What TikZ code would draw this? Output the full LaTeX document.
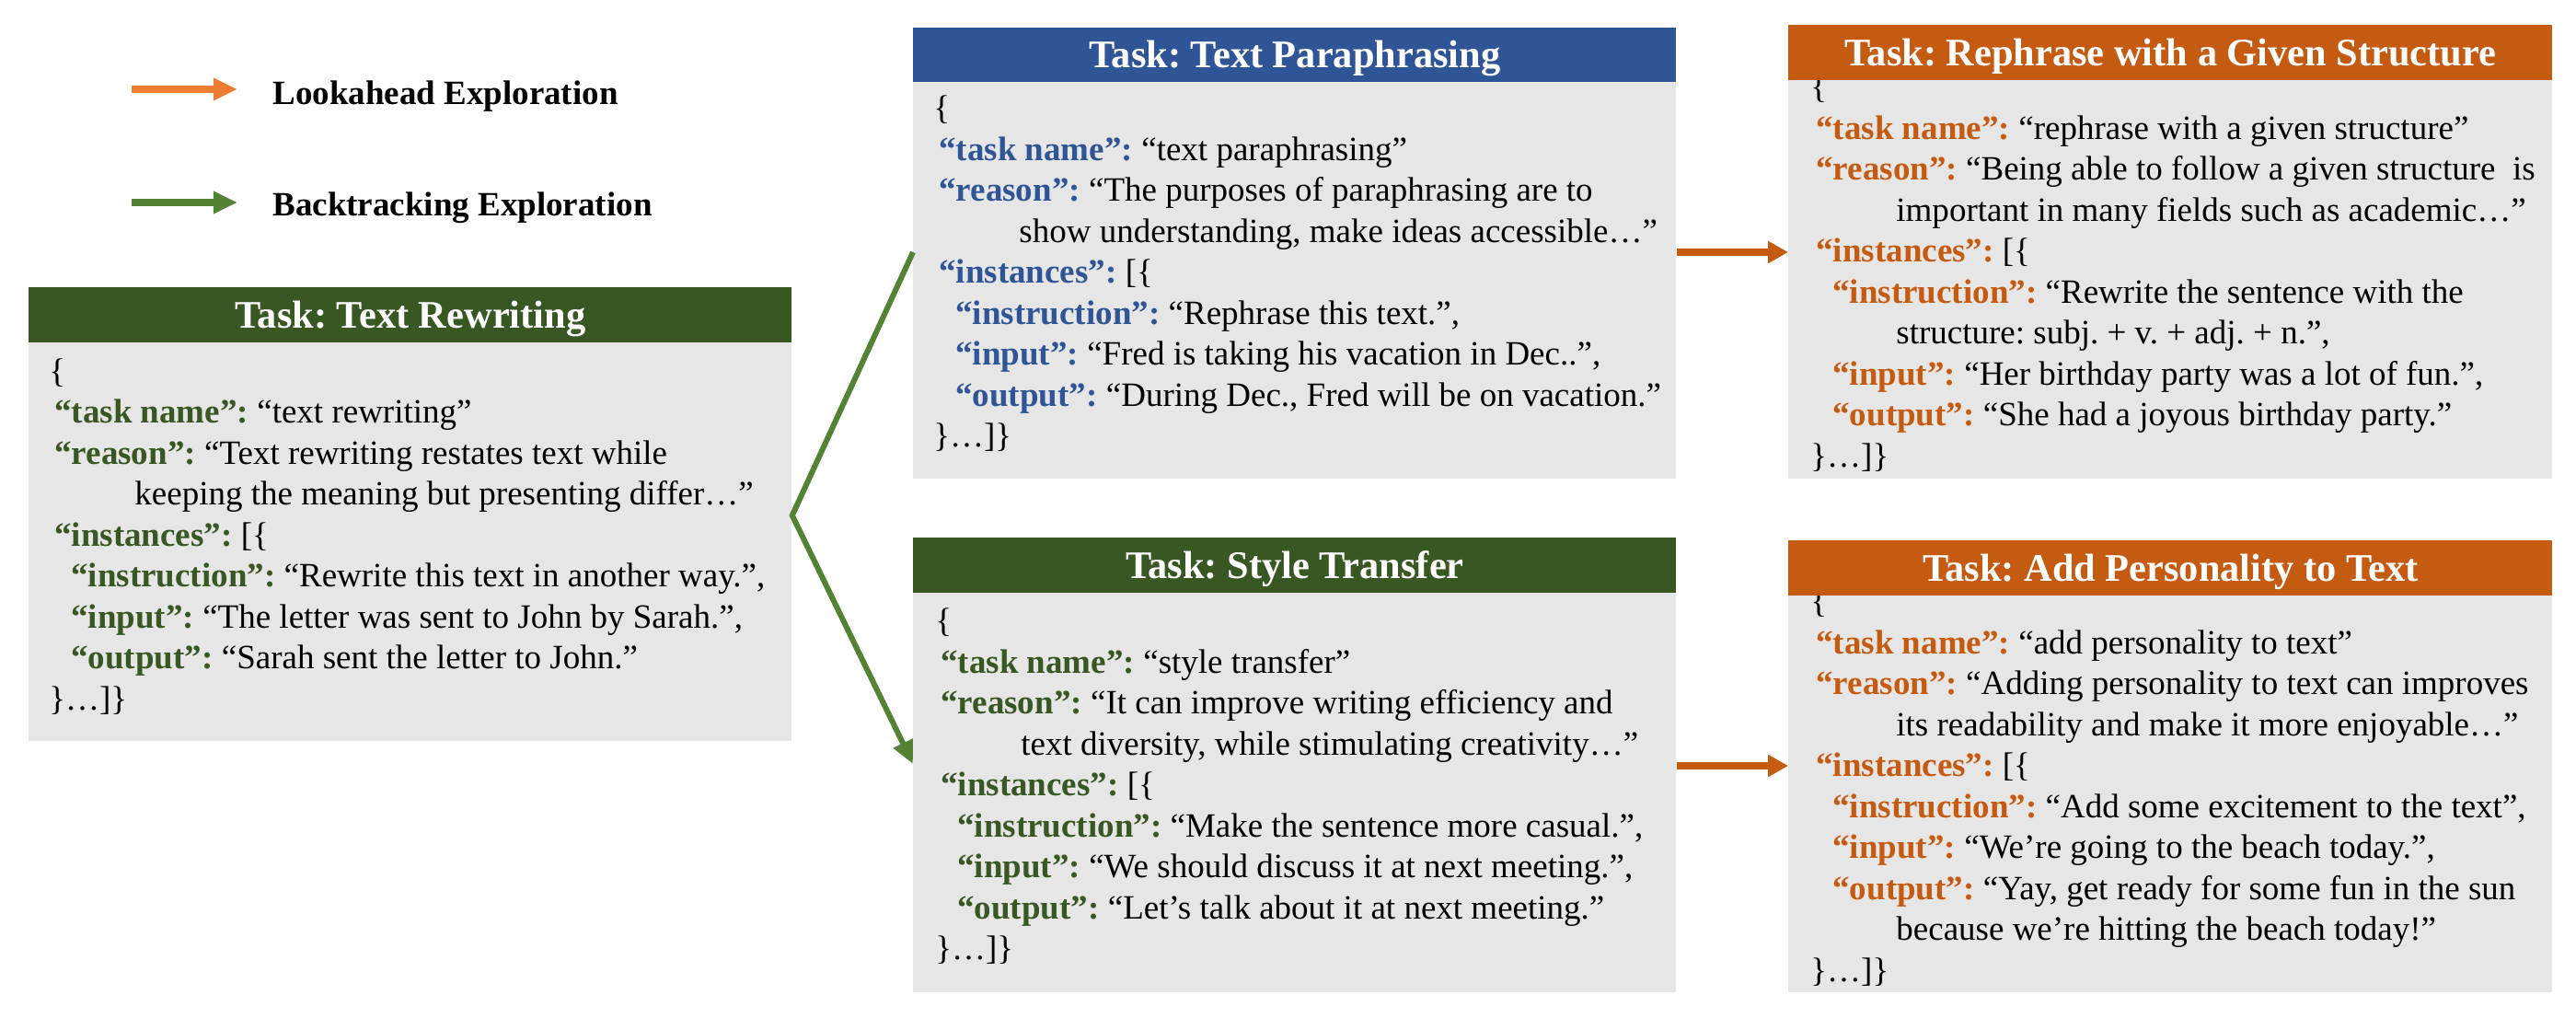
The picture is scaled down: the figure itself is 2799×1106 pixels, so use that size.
\documentclass[tikz,border=0pt]{standalone}
\usepackage{fontspec}
\setmainfont{Liberation Serif}
\usetikzlibrary{arrows.meta}
\definecolor{hgreen}{HTML}{385723}
\definecolor{agreen}{HTML}{548235}
\definecolor{hblue}{HTML}{2F5597}
\definecolor{horange}{HTML}{C55A11}
\definecolor{lorange}{HTML}{ED7D31}
\definecolor{bodygray}{HTML}{E7E6E6}
\colorlet{kc}{black}
\frenchspacing
\newcommand\jkey[1]{\textbf{\textcolor{kc}{“#1”:}}}
\newcommand\lva{\hspace*{3pt}}
\newcommand\lvb{\hspace*{12pt}}
\newcommand\lvc{\hspace*{46.5pt}}
\newcommand\bodyfont{\fontsize{18.5pt}{22.25pt}\selectfont\frenchspacing}
\tikzset{
  bodybox/.style={fill=bodygray, draw=none, inner sep=0pt, anchor=north west},
  headbox/.style={draw=none, inner sep=0pt, anchor=north west, text=white,
    font=\fontsize{21.2pt}{24pt}\selectfont\bfseries\frenchspacing, text height=14pt, text depth=0pt},
  bodytext/.style={inner sep=0pt, anchor=base west, font=\bodyfont},
  legtext/.style={inner sep=0pt, anchor=base west, font=\fontsize{18.5pt}{22pt}\selectfont\bfseries},
  orarrow/.style={draw=horange, line width=4pt, -{Triangle[length=11pt,width=11.5pt]}},
  legor/.style={draw=lorange, line width=4pt, -{Triangle[length=13pt,width=11.5pt]}},
  leggr/.style={draw=agreen, line width=4pt, -{Triangle[length=13pt,width=11.5pt]}},
  grarrow/.style={draw=agreen, line width=3pt, -{Triangle[length=12.5pt,width=11pt]}},
}
\begin{document}
\begin{tikzpicture}[x=0.5pt,y=-0.5pt]
\useasboundingbox (0,0) rectangle (2799,1106);

% legend
\coordinate (l1s) at (143,97);
\coordinate (l1e) at (258,97);
\coordinate (l2s) at (143,220);
\coordinate (l2e) at (258,220);
\draw[legor] (l1s) -- (l1e);
\draw[leggr] (l2s) -- (l2e);
\node[legtext] (leg1) at (296,114) {Lookahead Exploration};
\node[legtext] (leg2) at (296,235) {Backtracking Exploration};

% bodies
\node[bodybox, minimum width=414.5pt, minimum height=216.5pt] (rewbody) at (31,372) {};
\node[bodybox, minimum width=414.5pt, minimum height=215.5pt] (parabody) at (992,89) {};
\node[bodybox, minimum width=415pt, minimum height=216.5pt] (rephbody) at (1943,87) {};
\node[bodybox, minimum width=414.5pt, minimum height=217pt] (stylebody) at (992,644) {};
\node[bodybox, minimum width=415pt, minimum height=215.5pt] (persbody) at (1943,647) {};

% texts
\node[bodytext] (rewtext) at (53,415.5) {\parbox[t]{420pt}{\bodyfont\colorlet{kc}{hgreen}%
\{\\
\lva\jkey{task name} “text rewriting”\\
\lva\jkey{reason} “Text rewriting restates text while\\
\lvc keeping the meaning but presenting differ…”\\
\lva\jkey{instances} [\{\\
\lvb\jkey{instruction} “Rewrite this text in another way.”,\\
\lvb\jkey{input} “The letter was sent to John by Sarah.”,\\
\lvb\jkey{output} “Sarah sent the letter to John.”\\
\}…]\}}};

\node[bodytext] (paratext) at (1014,130) {\parbox[t]{420pt}{\bodyfont\colorlet{kc}{hblue}%
\{\\
\lva\jkey{task name} “text paraphrasing”\\
\lva\jkey{reason} “The purposes of paraphrasing are to\\
\lvc show understanding, make ideas accessible…”\\
\lva\jkey{instances} [\{\\
\lvb\jkey{instruction} “Rephrase this text.”,\\
\lvb\jkey{input} “Fred is taking his vacation in Dec..”,\\
\lvb\jkey{output} “During Dec., Fred will be on vacation.”\\
\}…]\}}};

\node[bodytext] (rephtext) at (1967,107) {\parbox[t]{420pt}{\bodyfont\colorlet{kc}{horange}%
\{\\
\lva\jkey{task name} “rephrase with a given structure”\\
\lva\jkey{reason} “Being able to follow a given structure\ \ is\\
\lvc important in many fields such as academic…”\\
\lva\jkey{instances} [\{\\
\lvb\jkey{instruction} “Rewrite the sentence with the\\
\lvc structure: subj. + v. + adj. + n.”,\\
\lvb\jkey{input} “Her birthday party was a lot of fun.”,\\
\lvb\jkey{output} “She had a joyous birthday party.”\\
\}…]\}}};

\node[bodytext] (styletext) at (1016,686.5) {\parbox[t]{420pt}{\bodyfont\colorlet{kc}{hgreen}%
\{\\
\lva\jkey{task name} “style transfer”\\
\lva\jkey{reason} “It can improve writing efficiency and\\
\lvc text diversity, while stimulating creativity…”\\
\lva\jkey{instances} [\{\\
\lvb\jkey{instruction} “Make the sentence more casual.”,\\
\lvb\jkey{input} “We should discuss it at next meeting.”,\\
\lvb\jkey{output} “Let’s talk about it at next meeting.”\\
\}…]\}}};

\node[bodytext] (perstext) at (1967,665.5) {\parbox[t]{420pt}{\bodyfont\colorlet{kc}{horange}%
\{\\
\lva\jkey{task name} “add personality to text”\\
\lva\jkey{reason} “Adding personality to text can improves\\
\lvc its readability and make it more enjoyable…”\\
\lva\jkey{instances} [\{\\
\lvb\jkey{instruction} “Add some excitement to the text”,\\
\lvb\jkey{input} “We’re going to the beach today.”,\\
\lvb\jkey{output} “Yay, get ready for some fun in the sun\\
\lvc because we’re hitting the beach today!”\\
\}…]\}}};

% headers
\node[headbox, fill=hgreen, minimum width=414.5pt, minimum height=30pt] (rewhead) at (31,312) {Task: Text Rewriting};
\node[headbox, fill=hblue, minimum width=414.5pt, minimum height=29.5pt] (parahead) at (992,30) {Task: Text Paraphrasing};
\node[headbox, fill=horange, minimum width=415pt, minimum height=30pt] (rephhead) at (1943,27) {Task: Rephrase with a Given Structure};
\node[headbox, fill=hgreen, minimum width=414.5pt, minimum height=30pt] (stylehead) at (992,584) {Task: Style Transfer};
\node[headbox, fill=horange, minimum width=415pt, minimum height=30pt] (pershead) at (1943,587) {Task: Add Personality to Text};

% connectors
\coordinate (ya) at (0,274);
\coordinate (yb) at (0,832);
\coordinate (yv) at (0,560);
\coordinate (yc) at (0,830);
\draw[orarrow] (parabody.east |- ya) -- (rephbody.west |- ya);
\draw[orarrow] (stylebody.east |- yb) -- (persbody.west |- yb);
\draw[grarrow] (parabody.west |- ya) -- (rewbody.east |- yv) -- (stylebody.west |- yc);
\end{tikzpicture}
\end{document}
